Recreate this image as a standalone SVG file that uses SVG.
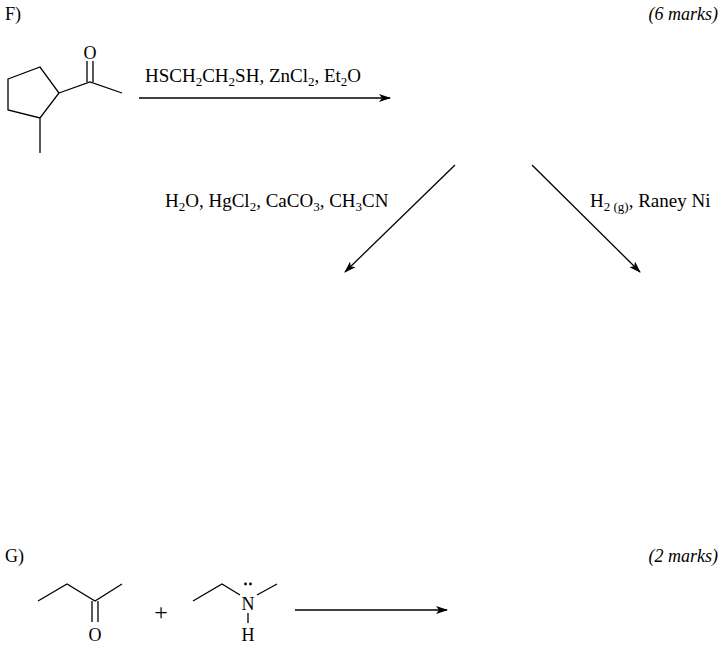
<svg xmlns="http://www.w3.org/2000/svg" width="723" height="650" viewBox="0 0 723 650">
<defs><marker id="ah" markerWidth="12" markerHeight="8" refX="11" refY="4" orient="auto" markerUnits="userSpaceOnUse"><path d="M0,0 L12,4 L0,8 L3,4 Z" fill="#000"/></marker></defs>
<style>
text{font-family:"Liberation Serif",serif;font-size:18px;fill:#000}
.i{font-style:italic}
.r{font-size:19px}
.b{fill:none;stroke:#000;stroke-width:1.3}
.a{stroke:#000;stroke-width:1.3;marker-end:url(#ah)}
.s{font-size:13px}
</style>
<rect width="723" height="650" fill="#fff"/>
<text x="5" y="20">F)</text>
<text x="718" y="20" text-anchor="end" class="i">(6 marks)</text>
<g id="sm1">
<path class="b" d="M8,79 L40,67 L59,93 L40,118 L8,110 Z M59,93 L90,82 L122,93 M40,118 L40,153"/>
<path class="b" d="M87,82 L87,61 M93,82 L93,61"/>
<text x="90" y="59" text-anchor="middle">O</text>
</g>
<g id="connectors">
<line class="a" x1="139" y1="98" x2="390" y2="98"/>
<line class="a" x1="455" y1="165" x2="345" y2="272"/>
<line class="a" x1="532" y1="165" x2="640" y2="272"/>
<line class="a" x1="295" y1="610" x2="447" y2="610"/>
</g>
<text class="r" x="145" y="82">HSCH<tspan class="s" dy="4">2</tspan><tspan dy="-4">CH</tspan><tspan class="s" dy="4">2</tspan><tspan dy="-4">SH, ZnCl</tspan><tspan class="s" dy="4">2</tspan><tspan dy="-4">, Et</tspan><tspan class="s" dy="4">2</tspan><tspan dy="-4">O</tspan></text>
<text class="r" x="165" y="207">H<tspan class="s" dy="4">2</tspan><tspan dy="-4">O, HgCl</tspan><tspan class="s" dy="4">2</tspan><tspan dy="-4">, CaCO</tspan><tspan class="s" dy="4">3</tspan><tspan dy="-4">, CH</tspan><tspan class="s" dy="4">3</tspan><tspan dy="-4">CN</tspan></text>
<text class="r" x="590" y="207">H<tspan class="s" dy="4">2 (g)</tspan><tspan dy="-4">, Raney Ni</tspan></text>
<text x="5" y="562">G)</text>
<text x="718" y="562" text-anchor="end" class="i">(2 marks)</text>
<g id="butanone">
<path class="b" d="M38,601 L67,584 L95,601 L122,584 M92,601 L92,622 M98,601 L98,622"/>
<text x="95" y="641" text-anchor="middle">O</text>
</g>
<text x="161" y="620" text-anchor="middle" style="font-size:24px">+</text>
<g id="amine">
<path class="b" d="M193,601 L222,584 L240,595 M257,595 L277,584 M248,613 L248,623"/>
<text x="248" y="610" text-anchor="middle">N</text>
<circle cx="245.5" cy="584" r="1.4"/><circle cx="250.5" cy="584" r="1.4"/>
<text x="248" y="641" text-anchor="middle">H</text>
</g>
</svg>
